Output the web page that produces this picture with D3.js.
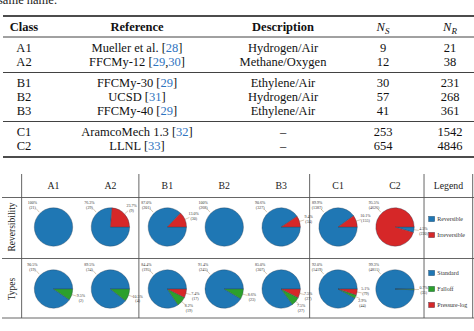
<!DOCTYPE html>
<html><head><meta charset="utf-8">
<script src="https://cdn.jsdelivr.net/npm/d3@7"></script>
<style>html,body{margin:0;padding:0;background:#fff;} svg{display:block;}</style>
</head><body>
<script>
// ---------- table data ----------
const classes = ["A1","A2","B1","B2","B3","C1","C2"];
const groups = ["A","A","B","B","B","C","C"];
const references = ["Mueller et al.","FFCMy-12","FFCMy-30","UCSD","FFCMy-40","AramcoMech 1.3","LLNL"];
const citations = [["28"],["29","30"],["29"],["31"],["29"],["32"],["33"]];
const descriptions = ["Hydrogen/Air","Methane/Oxygen","Ethylene/Air","Hydrogen/Air","Ethylene/Air","\u2013","\u2013"];
const nSpecies = [9,12,30,57,41,253,654];
const nReactions = [21,38,231,268,361,1542,4846];

// ---------- pie data ----------
const rowNames = ["Reversibility","Types"];
const reversible = [21,29,201,268,327,1387,220];
const irreversible = [0,9,30,0,34,155,4626];
const standard = [19,34,195,245,307,1419,4811];
const falloff = [2,4,19,23,27,44,35];
const pressureLog = [0,0,17,0,27,79,0];
const revLegend = ["Reversible","Irreversible"];
const typeLegend = ["Standard","Falloff","Pressure-log"];

const W = 474, H = 331;
const serif = "'Liberation Serif','Times New Roman',serif";
const svg = d3.select("body").append("svg").attr("width", W).attr("height", H);
svg.append("rect").attr("width", W).attr("height", H).attr("fill", "#fff");

// caption fragment at the very top (cut by the edge, as in the reference)
svg.append("text").attr("x", -2).attr("y", 4).attr("font-family", serif)
  .attr("font-size", 12.5).attr("fill", "#222").text("same name.");

// ---------- table ----------
const colX = {cls: 24, ref: 137, desc: 283, ns: 383, nr: 450};
const fs = 12.5;
const groupIdx = g => ["A","B","C"].indexOf(g);
const rowY = i => 48 + i * 14 + groupIdx(groups[i]) * 7;
const headY = 27;
const tbl = svg.append("g").attr("font-family", serif).attr("font-size", fs).attr("fill", "#111");

function rule(y, w) {
  tbl.append("line").attr("x1", 3).attr("x2", W).attr("y1", y).attr("y2", y)
    .attr("stroke", "#111").attr("stroke-width", w);
}
rule(16, 1.6);
rule(37, 0.8);
rule((rowY(1) + rowY(2)) / 2, 0.8);
rule((rowY(4) + rowY(5)) / 2, 0.8);
rule(157, 1.6);

const hb = headY + 4.3;
[["Class", colX.cls], ["Reference", colX.ref], ["Description", colX.desc]].forEach(([t, x]) => {
  tbl.append("text").attr("x", x).attr("y", hb).attr("text-anchor", "middle")
    .attr("font-weight", "bold").text(t);
});
[["S", colX.ns], ["R", colX.nr]].forEach(([s, x]) => {
  const t = tbl.append("text").attr("x", x).attr("y", hb).attr("text-anchor", "middle").attr("font-style", "italic");
  t.append("tspan").text("N");
  t.append("tspan").attr("font-size", fs * 0.72).attr("dy", 2.5).text(s);
});

classes.forEach((c, i) => {
  const yb = rowY(i) + 4.3;
  tbl.append("text").attr("x", colX.cls).attr("y", yb).attr("text-anchor", "middle").text(c);
  const t = tbl.append("text").attr("x", colX.ref).attr("y", yb).attr("text-anchor", "middle");
  t.append("tspan").text(references[i] + " [");
  citations[i].forEach((n, k) => {
    if (k > 0) t.append("tspan").text(",");
    t.append("tspan").attr("fill", "#2f74c0").text(n);
  });
  t.append("tspan").text("]");
  tbl.append("text").attr("x", colX.desc).attr("y", yb).attr("text-anchor", "middle").text(descriptions[i]);
  tbl.append("text").attr("x", colX.ns).attr("y", yb).attr("text-anchor", "middle").text(nSpecies[i]);
  tbl.append("text").attr("x", colX.nr).attr("y", yb).attr("text-anchor", "middle").text(nReactions[i]);
});

// ---------- pie grid ----------
const xP = d3.scalePoint().domain(classes).range([53.5, 395]);
const yP = d3.scalePoint().domain(rowNames).range([227, 289]);
const step = xP.step();
const R = 19.2;
const colors = {blue: "#1f77b4", red: "#d62728", green: "#2ca02c"};
const g = svg.append("g").attr("font-family", serif);

const gridTop = 174, headLine = 197.5, midLine = (yP("Reversibility") + yP("Types")) / 2 + 0.5, bottomLine = 318;
const xLeft = xP("A1") - 0.56 * step;
const xAB = (xP("A2") + xP("B1")) / 2;
const xBC = (xP("B3") + xP("C1")) / 2;
const xLeg = xP("C2") + 0.51 * step;
const xRight = 472.7;
const lineCol = "#555";
[headLine, midLine, bottomLine].forEach(y => {
  g.append("line").attr("x1", 2).attr("x2", W).attr("y1", y).attr("y2", y)
    .attr("stroke", lineCol).attr("stroke-width", 0.9);
});
[xLeft, xAB, xBC, xLeg, xRight].forEach(x => {
  g.append("line").attr("x1", x).attr("x2", x).attr("y1", gridTop).attr("y2", bottomLine)
    .attr("stroke", lineCol).attr("stroke-width", 0.9);
});

// headers
classes.forEach(c => {
  g.append("text").attr("x", xP(c)).attr("y", 188.5).attr("text-anchor", "middle")
    .attr("font-size", 9.8).attr("fill", "#222").text(c);
});
g.append("text").attr("x", (xLeg + xRight) / 2).attr("y", 188.5).attr("text-anchor", "middle")
  .attr("font-size", 9.8).attr("fill", "#222").text("Legend");

// row labels
rowNames.forEach(rn => {
  g.append("text").attr("transform", `translate(${(2 + xLeft) / 2 + 0.5},${yP(rn)}) rotate(-90)`)
    .attr("text-anchor", "middle").attr("dominant-baseline", "central")
    .attr("font-size", 9.5).attr("fill", "#222").text(rn);
});

const arc = d3.arc().innerRadius(0).outerRadius(R);
const pieCW = d3.pie().sort(null).startAngle(Math.PI / 2).endAngle(Math.PI / 2 + 2 * Math.PI);
const pieCCW = d3.pie().sort(null).startAngle(Math.PI / 2).endAngle(Math.PI / 2 - 2 * Math.PI);

function pct(v, tot) {
  const p = v / tot * 100;
  return (p === 100 ? "100" : p.toFixed(1)) + "%";
}

function drawPie(cx, cy, values, cols, pieGen) {
  const total = d3.sum(values);
  const arcs = pieGen(values);
  const pg = g.append("g").attr("transform", `translate(${cx},${cy})`);
  pg.selectAll("path").data(arcs.filter(a => a.value > 0)).join("path")
    .attr("d", arc).attr("fill", (d) => cols[d.index])
    .attr("stroke", "#2b3f55").attr("stroke-width", 0.35);
  const big = d3.maxIndex(values);
  const labels = [];
  arcs.forEach((a, i) => {
    if (a.value <= 0) return;
    if (i === big) {
      labels.push({a, lx: -21, ly: -22, l1: [-17.5, -18.5], l2: [-14.2, -14.8], fixed: true});
    } else {
      const m = (a.startAngle + a.endAngle) / 2;
      const sx = Math.sin(m), sy = -Math.cos(m);
      labels.push({a, lx: sx * R * 1.5, ly: sy * R * 1.5,
        l1: [sx * R * 1.0, sy * R * 1.0], l2: [sx * R * 1.25, sy * R * 1.25], fixed: false});
    }
  });
  // spread small-slice labels that would overlap vertically
  const small = labels.filter(l => !l.fixed).sort((p, q) => p.ly - q.ly);
  const minSep = 12;
  for (let k = 1; k < small.length; k++) {
    const d = small[k].ly - small[k - 1].ly;
    if (d < minSep) {
      const push = (minSep - d) / 2;
      small[k - 1].ly -= push;
      small[k].ly += push;
      small[k - 1].lx -= 1; small[k].lx -= 2;
    }
  }
  labels.forEach(L => {
    pg.append("line").attr("x1", L.l1[0]).attr("y1", L.l1[1]).attr("x2", L.l2[0]).attr("y2", L.l2[1])
      .attr("stroke", "#a8865a").attr("stroke-width", 0.45);
    const t = pg.append("text").attr("x", L.lx).attr("y", L.ly - 0.7).attr("text-anchor", "middle")
      .attr("font-size", 4).attr("fill", "#333");
    t.append("tspan").attr("x", L.lx).text(pct(L.a.value, total));
    t.append("tspan").attr("x", L.lx).attr("dy", 4.8).text("(" + L.a.value + ")");
  });
}

classes.forEach((c, i) => {
  drawPie(xP(c), yP("Reversibility"), [reversible[i], irreversible[i]], [colors.blue, colors.red], pieCW);
  drawPie(xP(c), yP("Types"), [standard[i], falloff[i], pressureLog[i]], [colors.blue, colors.green, colors.red], pieCCW);
});

// legends
function legend(items, cols, cy) {
  const n = items.length, sp = 16;
  items.forEach((it, k) => {
    const y = cy + (k - (n - 1) / 2) * sp;
    g.append("rect").attr("x", xLeg + 4.5).attr("y", y - 2.7).attr("width", 6.2).attr("height", 5.4)
      .attr("fill", cols[k]).attr("stroke", "#2b3f55").attr("stroke-width", 0.35);
    g.append("text").attr("x", xLeg + 13.3).attr("y", y + 2).attr("font-size", 6)
      .attr("fill", "#333").text(it);
  });
}
legend(revLegend, [colors.blue, colors.red], yP("Reversibility"));
legend(typeLegend, [colors.blue, colors.green, colors.red], yP("Types"));
</script>
</body></html>
